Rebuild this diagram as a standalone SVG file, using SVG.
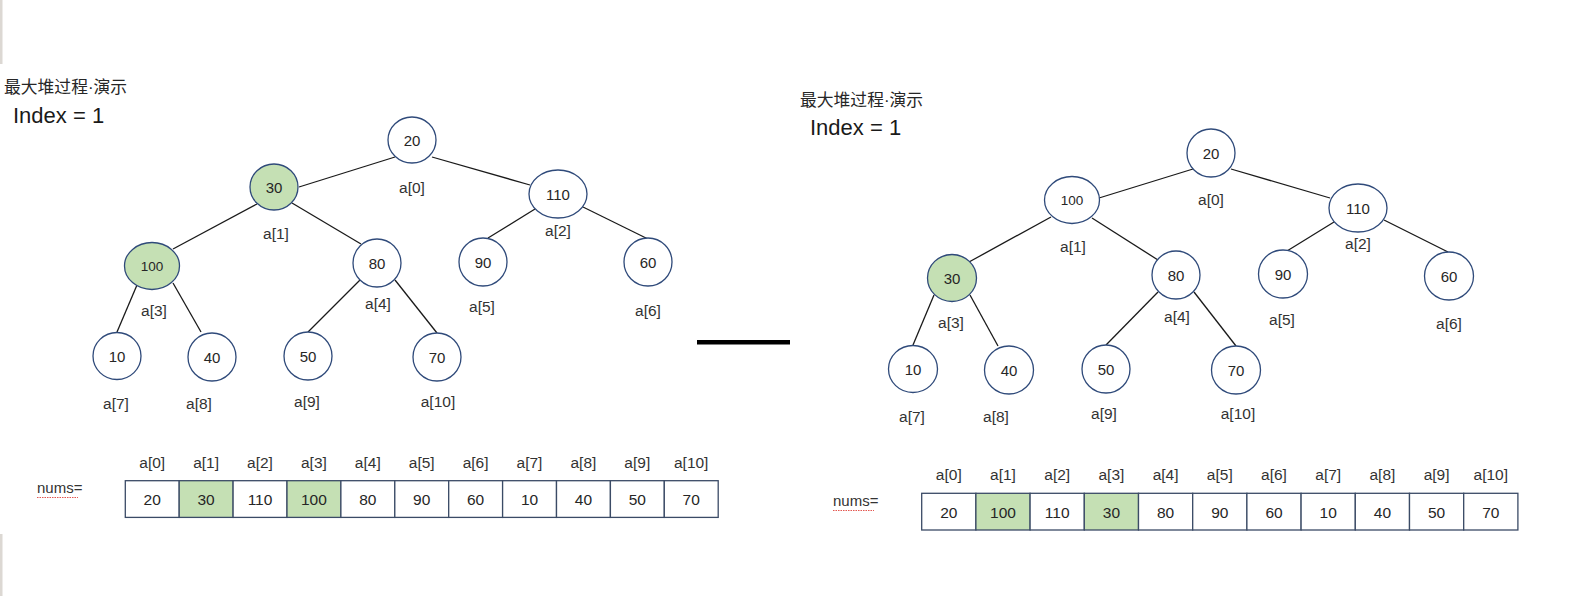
<svg xmlns="http://www.w3.org/2000/svg" width="1579" height="596" viewBox="0 0 1579 596">
<defs>
<style>
.nd{fill:#ffffff;stroke:#2f4a7a;stroke-width:1.3}
.cell{fill:#ffffff;stroke:#3b4b66;stroke-width:1.3}
.nd.hl,.cell.hl{fill:#c5e0b4}
.nt{font-family:"Liberation Sans",Arial,sans-serif;font-size:15px;fill:#262626;text-anchor:middle}
.sm{font-size:13.5px}
.lb{font-family:"Liberation Sans",Arial,sans-serif;font-size:15.5px;fill:#333333;text-anchor:middle}
.ed{stroke:#1a1a1a;stroke-width:1.3;fill:none}
.tv{font-family:"Liberation Sans",Arial,sans-serif;font-size:15.5px;fill:#262626;text-anchor:middle}
.title{font-family:"Liberation Sans","Noto Sans CJK SC",sans-serif;font-size:16.8px;fill:#262626}
.idx{font-family:"Liberation Sans",Arial,sans-serif;font-size:22px;fill:#1a1a1a}
.nums{font-family:"Liberation Sans",Arial,sans-serif;font-size:15px;fill:#333333}
.sq{stroke:#e0443c;stroke-width:0.9;fill:none;stroke-dasharray:1.5 1}
</style>
</defs>
<rect x="0" y="0" width="2.5" height="64" fill="#dcd8d3"/>
<rect x="0" y="534" width="2.5" height="62" fill="#dcd8d3"/>

<!-- Left panel -->
<text class="title" x="4" y="93">最大堆过程·演示</text>
<text class="idx" x="13" y="123">Index = 1</text>

<g id="left-connectors">
<line class="ed" x1="395" y1="157" x2="299" y2="187"/>
<line class="ed" x1="432" y1="157" x2="530" y2="185"/>
<line class="ed" x1="257" y1="204" x2="173" y2="249"/>
<line class="ed" x1="292" y1="203" x2="361" y2="244"/>
<line class="ed" x1="535" y1="209" x2="488" y2="238"/>
<line class="ed" x1="583" y1="207" x2="648" y2="239"/>
<line class="ed" x1="137" y1="285" x2="117" y2="332"/>
<line class="ed" x1="173" y1="283" x2="201" y2="332"/>
<line class="ed" x1="360" y1="280" x2="308" y2="332"/>
<line class="ed" x1="395" y1="280" x2="437" y2="333"/>
</g>

<g id="L0"><ellipse class="nd" cx="412" cy="140" rx="24" ry="23"/><text class="nt" x="412" y="145.5">20</text><text class="lb" x="412" y="193">a[0]</text></g>
<g id="L1"><ellipse class="nd hl" cx="274" cy="187" rx="24" ry="23"/><text class="nt" x="274" y="192.5">30</text><text class="lb" x="276" y="239">a[1]</text></g>
<g id="L2"><ellipse class="nd" cx="558" cy="194" rx="29" ry="24"/><text class="nt" x="558" y="199.5">110</text><text class="lb" x="558" y="236">a[2]</text></g>
<g id="L3"><ellipse class="nd hl" cx="152" cy="266" rx="27.5" ry="23.5"/><text class="nt sm" x="152" y="271">100</text><text class="lb" x="154" y="316">a[3]</text></g>
<g id="L4"><ellipse class="nd" cx="377" cy="263" rx="24" ry="24"/><text class="nt" x="377" y="268.5">80</text><text class="lb" x="378" y="309">a[4]</text></g>
<g id="L5"><ellipse class="nd" cx="483" cy="262" rx="24" ry="24"/><text class="nt" x="483" y="267.5">90</text><text class="lb" x="482" y="312">a[5]</text></g>
<g id="L6"><ellipse class="nd" cx="648" cy="262" rx="24" ry="24"/><text class="nt" x="648" y="267.5">60</text><text class="lb" x="648" y="316">a[6]</text></g>
<g id="L7"><ellipse class="nd" cx="117" cy="356" rx="24" ry="23.5"/><text class="nt" x="117" y="361.5">10</text><text class="lb" x="116" y="409">a[7]</text></g>
<g id="L8"><ellipse class="nd" cx="212" cy="357" rx="24" ry="24"/><text class="nt" x="212" y="362.5">40</text><text class="lb" x="199" y="409">a[8]</text></g>
<g id="L9"><ellipse class="nd" cx="308" cy="356" rx="24" ry="24"/><text class="nt" x="308" y="361.5">50</text><text class="lb" x="307" y="407">a[9]</text></g>
<g id="L10"><ellipse class="nd" cx="437" cy="357" rx="24" ry="24"/><text class="nt" x="437" y="362.5">70</text><text class="lb" x="438" y="407">a[10]</text></g>

<g id="left-array">
<text class="nums" x="37" y="493">nums=</text>
<path class="sq" d="M37 497.5 L78 497.5"/>
<rect class="cell" x="125.3" y="480.7" width="53.9" height="36.7"/>
<rect class="cell hl" x="179.2" y="480.7" width="53.9" height="36.7"/>
<rect class="cell" x="233.1" y="480.7" width="53.9" height="36.7"/>
<rect class="cell hl" x="287" y="480.7" width="53.9" height="36.7"/>
<rect class="cell" x="340.9" y="480.7" width="53.9" height="36.7"/>
<rect class="cell" x="394.8" y="480.7" width="53.9" height="36.7"/>
<rect class="cell" x="448.7" y="480.7" width="53.9" height="36.7"/>
<rect class="cell" x="502.6" y="480.7" width="53.9" height="36.7"/>
<rect class="cell" x="556.5" y="480.7" width="53.9" height="36.7"/>
<rect class="cell" x="610.4" y="480.7" width="53.9" height="36.7"/>
<rect class="cell" x="664.3" y="480.7" width="53.9" height="36.7"/>
<text class="tv" x="152.2" y="505">20</text>
<text class="tv" x="206.1" y="505">30</text>
<text class="tv" x="260" y="505">110</text>
<text class="tv" x="313.9" y="505">100</text>
<text class="tv" x="367.8" y="505">80</text>
<text class="tv" x="421.7" y="505">90</text>
<text class="tv" x="475.6" y="505">60</text>
<text class="tv" x="529.5" y="505">10</text>
<text class="tv" x="583.4" y="505">40</text>
<text class="tv" x="637.3" y="505">50</text>
<text class="tv" x="691.2" y="505">70</text>
<text class="lb" x="152.2" y="468">a[0]</text>
<text class="lb" x="206.1" y="468">a[1]</text>
<text class="lb" x="260" y="468">a[2]</text>
<text class="lb" x="313.9" y="468">a[3]</text>
<text class="lb" x="367.8" y="468">a[4]</text>
<text class="lb" x="421.7" y="468">a[5]</text>
<text class="lb" x="475.6" y="468">a[6]</text>
<text class="lb" x="529.5" y="468">a[7]</text>
<text class="lb" x="583.4" y="468">a[8]</text>
<text class="lb" x="637.3" y="468">a[9]</text>
<text class="lb" x="691.2" y="468">a[10]</text>
</g>

<rect id="separator" x="697" y="340" width="93" height="4.5" fill="#000000"/>

<!-- Right panel -->
<text class="title" x="800" y="106">最大堆过程·演示</text>
<text class="idx" x="810" y="135">Index = 1</text>

<g id="right-connectors">
<line class="ed" x1="1193" y1="169" x2="1099" y2="198"/>
<line class="ed" x1="1231" y1="169" x2="1330" y2="198"/>
<line class="ed" x1="1051" y1="217" x2="969" y2="262"/>
<line class="ed" x1="1092" y1="218" x2="1158" y2="260"/>
<line class="ed" x1="1334" y1="222" x2="1287" y2="251"/>
<line class="ed" x1="1384" y1="220" x2="1448" y2="252"/>
<line class="ed" x1="934" y1="295" x2="913" y2="345"/>
<line class="ed" x1="970" y1="295" x2="998" y2="346"/>
<line class="ed" x1="1158" y1="292" x2="1106" y2="345"/>
<line class="ed" x1="1194" y1="292" x2="1236" y2="346"/>
</g>

<g id="R0"><ellipse class="nd" cx="1211" cy="153" rx="24" ry="24"/><text class="nt" x="1211" y="158.5">20</text><text class="lb" x="1211" y="205">a[0]</text></g>
<g id="R1"><ellipse class="nd" cx="1072" cy="200" rx="27.5" ry="23.5"/><text class="nt sm" x="1072" y="205">100</text><text class="lb" x="1073" y="252">a[1]</text></g>
<g id="R2"><ellipse class="nd" cx="1358" cy="208" rx="29" ry="24"/><text class="nt" x="1358" y="213.5">110</text><text class="lb" x="1358" y="249">a[2]</text></g>
<g id="R3"><ellipse class="nd hl" cx="952" cy="278" rx="24.5" ry="23.5"/><text class="nt" x="952" y="283.5">30</text><text class="lb" x="951" y="328">a[3]</text></g>
<g id="R4"><ellipse class="nd" cx="1176" cy="275" rx="24" ry="24"/><text class="nt" x="1176" y="280.5">80</text><text class="lb" x="1177" y="322">a[4]</text></g>
<g id="R5"><ellipse class="nd" cx="1283" cy="274" rx="24.5" ry="24"/><text class="nt" x="1283" y="279.5">90</text><text class="lb" x="1282" y="325">a[5]</text></g>
<g id="R6"><ellipse class="nd" cx="1449" cy="276" rx="24.5" ry="24"/><text class="nt" x="1449" y="281.5">60</text><text class="lb" x="1449" y="329">a[6]</text></g>
<g id="R7"><ellipse class="nd" cx="913" cy="369" rx="24.5" ry="23.5"/><text class="nt" x="913" y="374.5">10</text><text class="lb" x="912" y="422">a[7]</text></g>
<g id="R8"><ellipse class="nd" cx="1009" cy="370" rx="24.5" ry="24"/><text class="nt" x="1009" y="375.5">40</text><text class="lb" x="996" y="422">a[8]</text></g>
<g id="R9"><ellipse class="nd" cx="1106" cy="369" rx="24" ry="24"/><text class="nt" x="1106" y="374.5">50</text><text class="lb" x="1104" y="419">a[9]</text></g>
<g id="R10"><ellipse class="nd" cx="1236" cy="370" rx="24.5" ry="24"/><text class="nt" x="1236" y="375.5">70</text><text class="lb" x="1238" y="419">a[10]</text></g>

<g id="right-array">
<text class="nums" x="833" y="506">nums=</text>
<path class="sq" d="M833 510.5 L874 510.5"/>
<rect class="cell" x="921.7" y="493.3" width="54.2" height="36.7"/>
<rect class="cell hl" x="975.9" y="493.3" width="54.2" height="36.7"/>
<rect class="cell" x="1030.1" y="493.3" width="54.2" height="36.7"/>
<rect class="cell hl" x="1084.3" y="493.3" width="54.2" height="36.7"/>
<rect class="cell" x="1138.5" y="493.3" width="54.2" height="36.7"/>
<rect class="cell" x="1192.7" y="493.3" width="54.2" height="36.7"/>
<rect class="cell" x="1246.9" y="493.3" width="54.2" height="36.7"/>
<rect class="cell" x="1301.1" y="493.3" width="54.2" height="36.7"/>
<rect class="cell" x="1355.3" y="493.3" width="54.2" height="36.7"/>
<rect class="cell" x="1409.5" y="493.3" width="54.2" height="36.7"/>
<rect class="cell" x="1463.7" y="493.3" width="54.2" height="36.7"/>
<text class="tv" x="948.8" y="517.5">20</text>
<text class="tv" x="1003" y="517.5">100</text>
<text class="tv" x="1057.2" y="517.5">110</text>
<text class="tv" x="1111.4" y="517.5">30</text>
<text class="tv" x="1165.6" y="517.5">80</text>
<text class="tv" x="1219.8" y="517.5">90</text>
<text class="tv" x="1274" y="517.5">60</text>
<text class="tv" x="1328.2" y="517.5">10</text>
<text class="tv" x="1382.4" y="517.5">40</text>
<text class="tv" x="1436.6" y="517.5">50</text>
<text class="tv" x="1490.8" y="517.5">70</text>
<text class="lb" x="948.8" y="480">a[0]</text>
<text class="lb" x="1003" y="480">a[1]</text>
<text class="lb" x="1057.2" y="480">a[2]</text>
<text class="lb" x="1111.4" y="480">a[3]</text>
<text class="lb" x="1165.6" y="480">a[4]</text>
<text class="lb" x="1219.8" y="480">a[5]</text>
<text class="lb" x="1274" y="480">a[6]</text>
<text class="lb" x="1328.2" y="480">a[7]</text>
<text class="lb" x="1382.4" y="480">a[8]</text>
<text class="lb" x="1436.6" y="480">a[9]</text>
<text class="lb" x="1490.8" y="480">a[10]</text>
</g>
</svg>
